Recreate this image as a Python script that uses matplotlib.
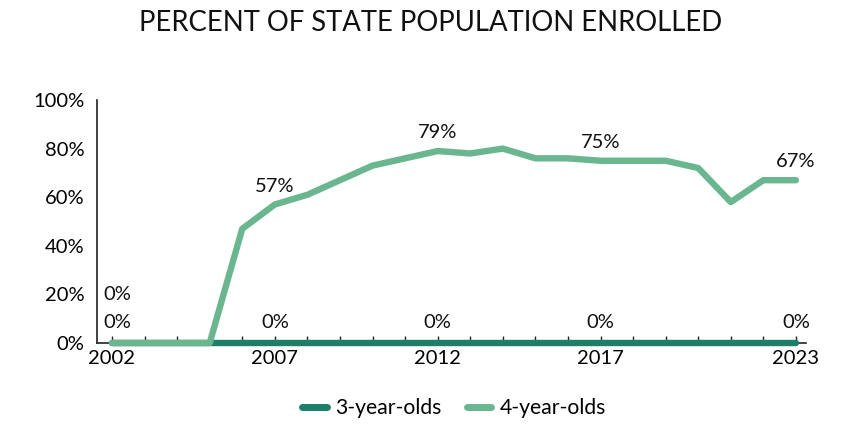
import matplotlib
matplotlib.use("Agg")
import matplotlib.pyplot as plt

years = list(range(2002, 2024))
three_year_olds = [0] * 22
four_year_olds = [0, 0, 0, 0, 47, 57, 61, 67, 73, 76, 79, 78, 80, 76, 76, 75, 75, 75, 72, 58, 67, 67]
label_years = [2002, 2007, 2012, 2017, 2023]
y_ticks = [0, 20, 40, 60, 80, 100]
y_tick_labels = ["0%", "20%", "40%", "60%", "80%", "100%"]
title = "PERCENT OF STATE POPULATION ENROLLED"
series_names = ["3-year-olds", "4-year-olds"]

c3 = "#1e7f68"
c4 = "#69b68f"

plt.rcParams['font.family'] = ['Lato', 'DejaVu Sans']
FS = 14.5

fig = plt.figure(figsize=(8.45, 4.25), dpi=100)
W, H = 845, 425
left, right, top, bottom = 97, 805.7, 100, 343
ax = fig.add_axes([left / W, 1 - bottom / H, (right - left) / W, (bottom - top) / H])

ax.plot(years, three_year_olds, color=c3, lw=4.6, solid_capstyle='round', clip_on=False, label=series_names[0], zorder=3)
ax.plot(years, four_year_olds, color=c4, lw=4.6, solid_capstyle='round', clip_on=False, label=series_names[1], zorder=4)

ax.set_xlim(2001.54, 2023.3)
ax.set_ylim(0, 100)

for y in label_years:
    i = years.index(y)
    v3 = three_year_olds[i]
    v4 = four_year_olds[i]
    dx = 4 if y == years[0] else 0
    ax.annotate(f"{v3:.0f}%", (y, v3), xytext=(dx, 9), textcoords='offset points',
                ha='center', va='bottom', fontsize=FS, color='#111111')
    off = 7 if v4 > 5 else 29
    ax.annotate(f"{v4:.0f}%", (y, v4), xytext=(dx, off), textcoords='offset points',
                ha='center', va='bottom', fontsize=FS, color='#111111')

ax.set_xticks(label_years)
ax.set_xticklabels([str(y) for y in label_years], fontsize=FS)
ax.set_xticks([y for y in years if y not in label_years], minor=True)
ax.tick_params(axis='x', which='both', direction='in', length=5, width=1, color='#222222', pad=5)
ax.set_yticks(y_ticks)
ax.set_yticklabels(y_tick_labels, fontsize=FS)
ax.tick_params(axis='y', length=0, pad=9)

for s in ['top', 'right']:
    ax.spines[s].set_visible(False)
for s in ['left', 'bottom']:
    ax.spines[s].set_color('#222222')
    ax.spines[s].set_linewidth(1.2)

fig.text(431 / W, 1 - 23 / H, title, ha='center', va='center', fontsize=19.8, color='#111111')

leg = fig.legend(loc='center', bbox_to_anchor=(454 / W, 1 - 408 / H), ncol=2, frameon=False,
                 fontsize=15.2, handlelength=1.15, handletextpad=0.4, columnspacing=1.2)
for line in leg.get_lines():
    line.set_linewidth(5)
    line.set_solid_capstyle('round')

fig.savefig("out.png", dpi=100)
